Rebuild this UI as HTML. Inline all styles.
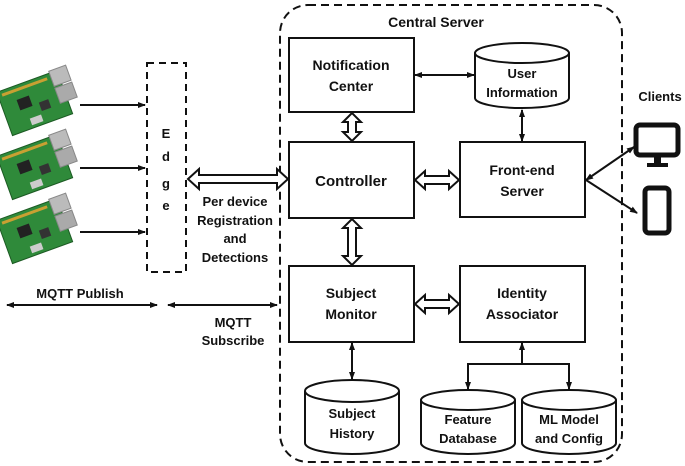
<!DOCTYPE html>
<html><head><meta charset="utf-8"><style>
html,body{margin:0;padding:0;background:#fff;}
svg{display:block;font-family:"Liberation Sans",sans-serif;font-weight:bold;}
text{font-size:13px;fill:#111;text-anchor:middle;}
</style></head><body>
<svg width="685" height="466" viewBox="0 0 685 466" xmlns="http://www.w3.org/2000/svg">
<defs>
<marker id="a" markerWidth="8" markerHeight="8" refX="7" refY="4" orient="auto-start-reverse" markerUnits="userSpaceOnUse"><path d="M0,1 L8,4 L0,7 Z" fill="#111"/></marker>
<g id="pi">
<g transform="rotate(-20 40 40)">
<rect x="2" y="18" width="64" height="46" fill="#2f8a3a" stroke="#1c5a23"/>
<rect x="18" y="32" width="13" height="11" fill="#222"/>
<rect x="38" y="42" width="10" height="9" fill="#333"/>
<rect x="6" y="21" width="48" height="3" fill="#c8a032"/>
<rect x="58" y="16" width="18" height="16" fill="#bbb" stroke="#888"/>
<rect x="58" y="34" width="18" height="16" fill="#aaa" stroke="#888"/>
<rect x="24" y="54" width="12" height="7" fill="#ccc"/>
</g>
</g>
</defs>
<g stroke="#111" fill="none">
<rect x="280" y="5" width="342" height="457" rx="28" stroke-width="2" stroke-dasharray="8,5"/>
<rect x="147" y="63" width="39" height="209" stroke-width="2" stroke-dasharray="7,5"/>
<g stroke-width="2" fill="#fff">
<rect x="289" y="38" width="125" height="74"/>
<rect x="289" y="142" width="125" height="76"/>
<rect x="460" y="142" width="125" height="75"/>
<rect x="289" y="266" width="125" height="76"/>
<rect x="460" y="266" width="125" height="76"/>
</g>
<g stroke-width="2" fill="#fff">
<path d="M475,53 v45 a47,10 0 0 0 94,0 v-45"/><ellipse cx="522" cy="53" rx="47" ry="10"/>
<path d="M305,391 v52 a47,11 0 0 0 94,0 v-52"/><ellipse cx="352" cy="391" rx="47" ry="11"/>
<path d="M421,400 v43 a47,11 0 0 0 94,0 v-43"/><ellipse cx="468" cy="400" rx="47" ry="10"/>
<path d="M522,400 v43 a47,11 0 0 0 94,0 v-43"/><ellipse cx="569" cy="400" rx="47" ry="10"/>
</g>
<g stroke-width="2">
<line x1="80" y1="105" x2="145" y2="105" marker-end="url(#a)"/>
<line x1="80" y1="168" x2="145" y2="168" marker-end="url(#a)"/>
<line x1="80" y1="232" x2="145" y2="232" marker-end="url(#a)"/>
<line x1="7" y1="305" x2="157" y2="305" marker-start="url(#a)" marker-end="url(#a)"/>
<line x1="168" y1="305" x2="277" y2="305" marker-start="url(#a)" marker-end="url(#a)"/>
<line x1="415" y1="75" x2="474" y2="75" marker-start="url(#a)" marker-end="url(#a)"/>
<line x1="522" y1="110" x2="522" y2="141" marker-start="url(#a)" marker-end="url(#a)"/>
<line x1="352" y1="343" x2="352" y2="379" marker-start="url(#a)" marker-end="url(#a)"/>
<line x1="522" y1="343" x2="522" y2="364" marker-start="url(#a)"/>
<path d="M468,389 V364 H569 V389"/>
<line x1="468" y1="380" x2="468" y2="389" marker-end="url(#a)"/>
<line x1="569" y1="380" x2="569" y2="389" marker-end="url(#a)"/>
<line x1="586" y1="180" x2="634" y2="147" marker-start="url(#a)" marker-end="url(#a)"/>
<line x1="586" y1="180" x2="637" y2="213" marker-end="url(#a)"/>
</g>
<g stroke-width="2" fill="#fff">
<path d="M188,179 l11,-10 v6 h78 v-6 l11,10 l-11,10 v-6 h-78 v6 z"/>
<path d="M415,180 l10,-9 v5 h24 v-5 l10,9 l-10,9 v-5 h-24 v5 z"/>
<path d="M415,304 l10,-9 v5 h24 v-5 l10,9 l-10,9 v-5 h-24 v5 z"/>
<path d="M352,113 l-9,9 h5 v10 h-5 l9,9 l9,-9 h-5 v-10 h5 z"/>
<path d="M352,219 l-9,9 h5 v28 h-5 l9,9 l9,-9 h-5 v-28 h5 z"/>
</g>
<rect x="636" y="125" width="42" height="30" rx="4" stroke-width="5"/>
<rect x="654" y="155" width="7" height="8" fill="#111" stroke="none"/>
<rect x="647" y="163" width="21" height="4" fill="#111" stroke="none"/>
<rect x="645" y="188" width="24" height="45" rx="4" stroke-width="5"/>
</g>
<use href="#pi" x="0" y="60"/>
<use href="#pi" x="0" y="124"/>
<use href="#pi" x="0" y="188"/>
<text x="436" y="27" style="font-size:14px">Central Server</text>
<text x="351" y="70" style="font-size:14px">Notification</text>
<text x="351" y="91" style="font-size:14px">Center</text>
<text x="522" y="78">User</text>
<text x="522" y="97">Information</text>
<text x="351" y="186" style="font-size:15px">Controller</text>
<text x="522" y="175" style="font-size:14px">Front-end</text>
<text x="522" y="196" style="font-size:14px">Server</text>
<text x="351" y="298" style="font-size:14px">Subject</text>
<text x="351" y="319" style="font-size:14px">Monitor</text>
<text x="522" y="298" style="font-size:14px">Identity</text>
<text x="522" y="319" style="font-size:14px">Associator</text>
<text x="352" y="418">Subject</text>
<text x="352" y="438">History</text>
<text x="468" y="424">Feature</text>
<text x="468" y="443">Database</text>
<text x="569" y="424">ML Model</text>
<text x="569" y="443">and Config</text>
<text x="166" y="138">E</text>
<text x="166" y="161">d</text>
<text x="166" y="188">g</text>
<text x="166" y="210">e</text>
<text x="235" y="206">Per device</text>
<text x="235" y="225">Registration</text>
<text x="235" y="243">and</text>
<text x="235" y="262">Detections</text>
<text x="80" y="298">MQTT Publish</text>
<text x="233" y="327">MQTT</text>
<text x="233" y="345">Subscribe</text>
<text x="660" y="101">Clients</text>
</svg>
</body></html>
